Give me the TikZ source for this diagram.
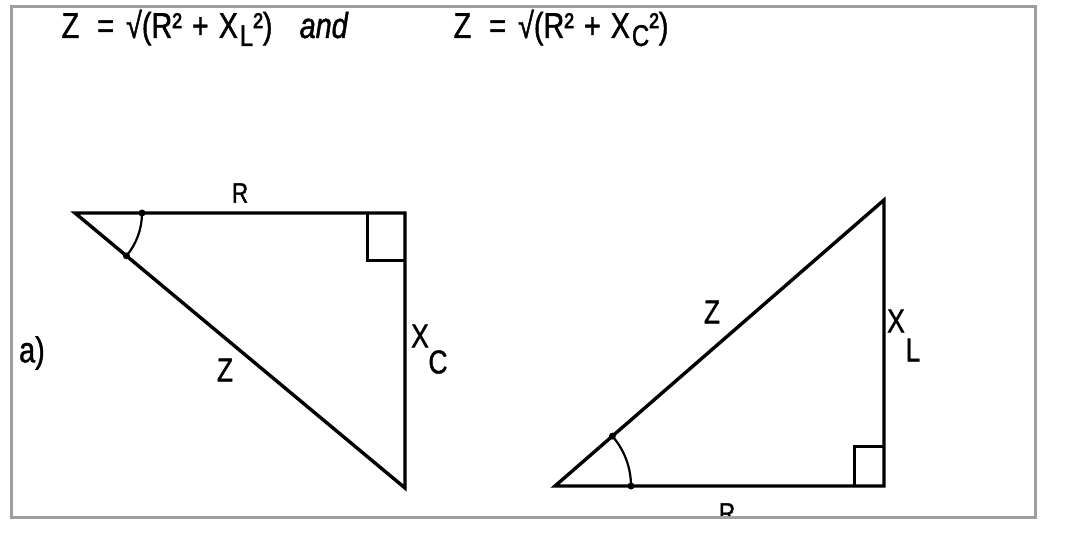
\documentclass[tikz,border=0pt]{standalone}
\usepackage{fontspec}
\setmainfont{Liberation Sans}
\newfontfamily\narrowfont{Liberation Sans}[FakeStretch=0.8, FakeBold=1.2]

\begin{document}
\begin{tikzpicture}[x = 0.5pt, y = 0.5pt, line width = 1.7pt,
								side/.style = {font = \narrowfont\fontsize{16.5}{16.5}\selectfont,
								inner sep = 0pt},
								formula/.style = {font = \narrowfont\fontsize{18}{18}\selectfont,
								inner sep = 0pt, anchor = base west},
								frame/.style = {draw = black!38, line width = 1.5pt},
								corner/.style = {line width = 1.5pt},
								tick/.style = {line width = 1.1pt}]
				\useasboundingbox (0,0) rectangle (1071,537);
				\draw [frame] (11,20) rectangle (1035,530);

				\node [formula] (f_1) at (60,499)
				{Z\hspace{9pt}=\hspace{6pt}√(R²\hspace{5pt}+\hspace{5pt}X\hspace{1pt}\raisebox{-4pt}{\fontsize{15}{15}\selectfont L}²)};
				\node [formula, font = \narrowfont\itshape\fontsize{18}{18}\selectfont] (f_and) at (298,499) {and};
				\node [formula] (f_2) at (452,499)
				{Z\hspace{9pt}=\hspace{6pt}√(R²\hspace{5pt}+\hspace{5pt}X\hspace{1pt}\raisebox{-4pt}{\fontsize{15}{15}\selectfont C}²)};

				\coordinate (a_1) at (75,324);
				\coordinate (a_2) at (405,324);
				\coordinate (a_3) at (405,49);
				\draw (a_1) -- (a_2) -- (a_3) -- cycle;
				\draw [corner] ([xshift = -19pt]a_2) -- ++(0,-47) -- ++(38,0);
				\draw [tick] (a_1) ++(0:67) arc [start angle = 0, end angle = -39.8, radius = 67];
				\fill (a_1) ++(0:67) circle [radius = 3.5];
				\fill (a_1) ++(-39.8:67) circle [radius = 3.5];
				\node [side, font = \narrowfont\fontsize{14}{14}\selectfont] (r_1) at (240,344) {R};
				\node [side] (z_1) at (225,167) {Z};
				\node [side] (x_1) at (420,201) {X};
				\node [side] (c_1) at (438,175) {C};
				\node [side, font = \narrowfont\fontsize{18}{18}\selectfont] (a_lbl) at (32,184) {a)};

				\coordinate (b_1) at (555,51);
				\coordinate (b_2) at (884,51);
				\coordinate (b_3) at (884,337);
				\draw (b_1) -- (b_2) -- (b_3) -- cycle;
				\draw [corner] ([xshift = -15pt]b_2) -- ++(0,40) -- ++(30,0);
				\draw [tick] (b_1) ++(0:76) arc [start angle = 0, end angle = 41, radius = 76];
				\fill (b_1) ++(0:76) circle [radius = 3.5];
				\fill (b_1) ++(41:76) circle [radius = 3.5];
				\node [side] (z_2) at (712,225) {Z};
				\node [side] (x_2) at (896,216) {X};
				\node [side] (l_2) at (913,187) {L};
				\begin{scope}
				\clip (11,22) rectangle (1035,530);
				\node [side, font = \narrowfont\fontsize{14}{14}\selectfont] (r_2) at (727,24) {R};
				\end{scope}
			\end{tikzpicture}
\end{document}
